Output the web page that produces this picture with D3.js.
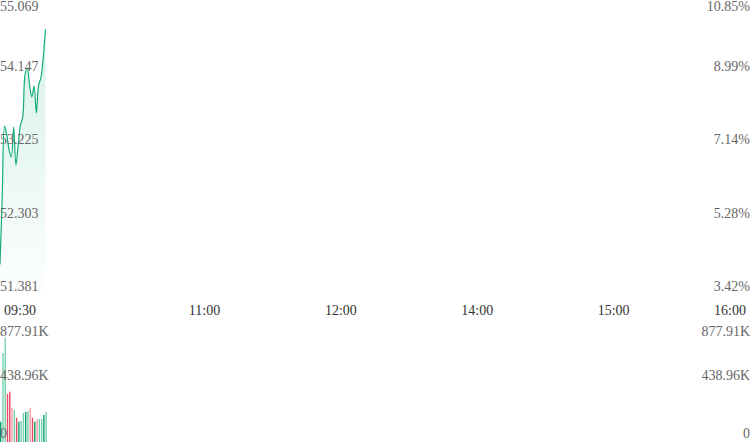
<!DOCTYPE html>
<html>
<head>
<meta charset="utf-8">
<script src="https://cdn.jsdelivr.net/npm/d3@7"></script>
<style>
  html, body { margin: 0; padding: 0; background: #fff; }
  svg { display: block; }
  text { font-family: "Liberation Serif", "DejaVu Serif", serif; font-size: 14px; }
</style>
</head>
<body>
<svg id="chart"></svg>
<script>
// minute data, 09:30 onwards
var times = ["09:30","09:31","09:32","09:33","09:34","09:35","09:36","09:37","09:38","09:39","09:40",
             "09:41","09:42","09:43","09:44","09:45","09:46","09:47","09:48","09:49","09:50"];
var prices = [51.381, 52.472, 53.554, 53.413, 53.178, 53.068, 53.539, 52.943, 53.256, 53.570, 53.695,
              54.354, 54.464, 54.197, 54.009, 54.181, 53.758, 54.197, 54.307, 54.620, 55.069];
var volumes = [171, 748, 877.91, 404, 423, 288, 269, 204, 171, 177, 244,
               252, 261, 286, 204, 171, 193, 193, 193, 227, 252]; // thousands
var volStrong = [1,0,0,1,1,0,0,1,1,0,0, 1,0,0,1,1,0,0,0,1,0];

var priceTicks = ["55.069","54.147","53.225","52.303","51.381"];
var pctTicks = ["10.85%","8.99%","7.14%","5.28%","3.42%"];
var volTicks = ["877.91K","438.96K","0"];
var timeTicks = ["09:30","11:00","12:00","14:00","15:00","16:00"];

var W = 750, H = 442;
var priceTop = 0, priceBottom = 294;
var volTop = 326, volBottom = 442;

var svg = d3.select("#chart").attr("width", W).attr("height", H);

// trading minutes, lunch 12:00-13:00 removed
function toMin(t) {
  var p = t.split(":"), m = (+p[0]) * 60 + (+p[1]) - 570;
  if (m > 150) m = Math.max(150, m - 60);
  return m;
}

var x = d3.scaleLinear().domain([0, 330]).range([0, W]);

var pMin = d3.min(prices), pMax = d3.max(prices);
var padP = (priceBottom - priceTop) * 0.1;
var y = d3.scaleLinear().domain([pMin, pMax]).range([priceBottom - padP, priceTop + padP]);
var yTick = d3.scaleLinear().domain([0, priceTicks.length - 1]).range([priceTop, priceBottom]);

var vMax = d3.max(volumes);
var padV = (volBottom - volTop) * 0.1;
var yv = d3.scaleLinear().domain([0, vMax]).range([volBottom, volTop + padV]);
var yvTick = d3.scaleLinear().domain([0, volTicks.length - 1]).range([volTop, volBottom]);

var pts = times.map(function(t, i) { return { m: toMin(t), p: prices[i], v: volumes[i], s: volStrong[i] }; });

// area gradient
var defs = svg.append("defs");
var grad = defs.append("linearGradient").attr("id", "fillGrad")
  .attr("gradientUnits", "userSpaceOnUse")
  .attr("x1", 0).attr("y1", y(pMax)).attr("x2", 0).attr("y2", priceBottom);
grad.append("stop").attr("offset", 0).attr("stop-color", "#14b07a").attr("stop-opacity", 0.17);
grad.append("stop").attr("offset", 1).attr("stop-color", "#14b07a").attr("stop-opacity", 0.01);

var curve = d3.curveCatmullRom.alpha(0.5);

svg.append("path").datum(pts)
  .attr("fill", "url(#fillGrad)")
  .attr("d", d3.area().curve(curve)
    .x(function(d) { return x(d.m); })
    .y0(priceBottom)
    .y1(function(d) { return y(d.p); }));

svg.append("path").datum(pts)
  .attr("fill", "none")
  .attr("stroke", "#13ad78")
  .attr("stroke-width", 1.2)
  .attr("d", d3.line().curve(curve)
    .x(function(d) { return x(d.m); })
    .y(function(d) { return y(d.p); }));

// volume bars
svg.selectAll(".vol").data(pts).enter().append("rect")
  .attr("class", "vol")
  .attr("x", function(d) { return x(d.m); })
  .attr("width", 1.4)
  .attr("y", function(d) { return yv(d.v); })
  .attr("height", function(d) { return volBottom - yv(d.v); })
  .attr("fill", function(d, i) {
    var up = i == 0 ? true : d.p >= prices[i - 1];
    if (up) return d.s ? "#0f9f6c" : "#74d1ad";
    return d.s ? "#ea4862" : "#f59caa";
  });

// price / percent labels
function tickY(i, n, sc) {
  return i == 0 ? sc(i) + 11 : sc(i) - 3;
}
svg.selectAll(".pt").data(priceTicks).enter().append("text")
  .attr("x", 0).attr("y", function(d, i) { return tickY(i, priceTicks.length, yTick); })
  .attr("fill", "#666").text(function(d) { return d; });
svg.selectAll(".pc").data(pctTicks).enter().append("text")
  .attr("x", W).attr("text-anchor", "end")
  .attr("y", function(d, i) { return tickY(i, pctTicks.length, yTick); })
  .attr("fill", "#666").text(function(d) { return d; });

// volume labels
svg.selectAll(".vl").data(volTicks).enter().append("text")
  .attr("x", 0).attr("y", function(d, i) { return i == 0 ? yvTick(i) + 10 : yvTick(i) - 4; })
  .attr("fill", "#666").text(function(d) { return d; });
svg.selectAll(".vr").data(volTicks).enter().append("text")
  .attr("x", W).attr("text-anchor", "end")
  .attr("y", function(d, i) { return i == 0 ? yvTick(i) + 10 : yvTick(i) - 4; })
  .attr("fill", "#666").text(function(d) { return d; });

// time labels
svg.selectAll(".tt").data(timeTicks).enter().append("text")
  .attr("y", 315)
  .attr("x", function(d, i) {
    if (i == 0) return x(toMin(d)) + 4;
    if (i == timeTicks.length - 1) return x(toMin(d)) - 4;
    return x(toMin(d));
  })
  .attr("text-anchor", function(d, i) { return i == 0 ? "start" : (i == timeTicks.length - 1 ? "end" : "middle"); })
  .attr("fill", "#333").text(function(d) { return d; });
</script>
</body>
</html>
